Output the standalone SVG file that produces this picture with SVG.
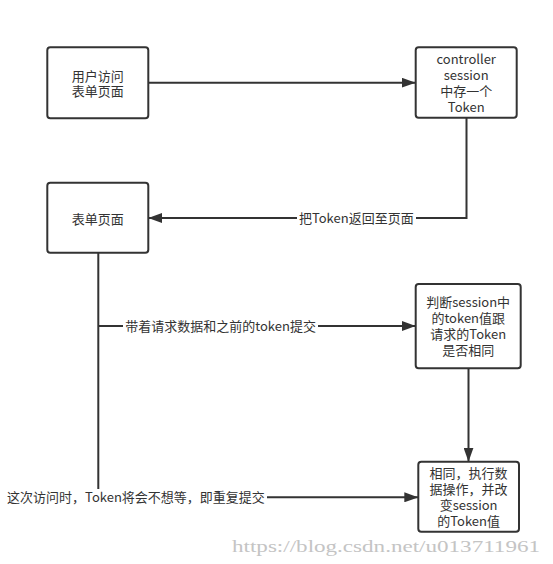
<svg xmlns="http://www.w3.org/2000/svg" width="553" height="564" viewBox="0 0 553 564">
<style>
.box{fill:#fff;stroke:#333;stroke-width:2}
.t{font-family:"Noto Sans CJK SC","Noto Sans",sans-serif;font-size:13px;fill:#333;text-anchor:middle}
.ln{fill:none;stroke:#333;stroke-width:2}
.lbl{fill:#fff}
.wm{font-family:"Liberation Serif",serif;font-size:16px;fill:#c4c4c4}
</style>
<defs>
<marker id="ah" viewBox="0 0 14 10" refX="14" refY="5" markerWidth="14" markerHeight="10" markerUnits="userSpaceOnUse" orient="auto">
<path d="M0,0 L14,5 L0,10 Z" fill="#333"/>
</marker>
</defs>
<rect width="553" height="564" fill="#fff"/>
<g id="connectors">
<path class="ln" d="M148.3 82.7 H415.7" marker-end="url(#ah)"/>
<path class="ln" d="M466.5 117.7 V218 H148.3" marker-end="url(#ah)"/>
<path class="ln" d="M98.3 252.7 V497.3 H418.3" marker-end="url(#ah)"/>
<path class="ln" d="M98.3 326 H415.7" marker-end="url(#ah)"/>
<path class="ln" d="M468.5 368.3 V461.7" marker-end="url(#ah)"/>
<rect class="lbl" x="297" y="210" width="119" height="16"/>
<text class="t" x="356.3" y="222.5">把Token返回至页面</text>
<rect class="lbl" x="123" y="318" width="195" height="16"/>
<text class="t" x="220.6" y="330.5">带着请求数据和之前的token提交</text>
<rect class="lbl" x="5" y="489" width="262" height="16"/>
<text class="t" x="136" y="501.8">这次访问时，Token将会不想等，即重复提交</text>
</g>
<g id="n1">
<rect class="box" x="47.3" y="47.3" width="101" height="71" rx="3"/>
<text class="t" x="97.8" y="81.2">用户访问</text>
<text class="t" x="97.8" y="96.2">表单页面</text>
</g>
<g id="n2">
<rect class="box" x="415.7" y="47.3" width="101" height="70.4" rx="3"/>
<text class="t" x="466.2" y="64.3">controller</text>
<text class="t" x="466.2" y="80">session</text>
<text class="t" x="466.2" y="96.2">中存一个</text>
<text class="t" x="466.2" y="111.6">Token</text>
</g>
<g id="n3">
<rect class="box" x="47.3" y="182.7" width="101" height="70" rx="3"/>
<text class="t" x="97.8" y="223.5">表单页面</text>
</g>
<g id="n4">
<rect class="box" x="415.7" y="284" width="105" height="84.3" rx="3"/>
<text class="t" x="468.2" y="306.8">判断session中</text>
<text class="t" x="468.2" y="323.3">的token值跟</text>
<text class="t" x="468.2" y="338.8">请求的Token</text>
<text class="t" x="468.2" y="355.2">是否相同</text>
</g>
<g id="n5">
<rect class="box" x="418.3" y="461.7" width="100.7" height="70" rx="3"/>
<text class="t" x="468.6" y="477.8">相同，执行数</text>
<text class="t" x="468.6" y="494.4">据操作，并改</text>
<text class="t" x="468.6" y="510.3">变session</text>
<text class="t" x="468.6" y="525.5">的Token值</text>
</g>
<text class="wm" x="232" y="551.5" textLength="308" lengthAdjust="spacingAndGlyphs">https://blog.csdn.net/u013711961</text>
</svg>
